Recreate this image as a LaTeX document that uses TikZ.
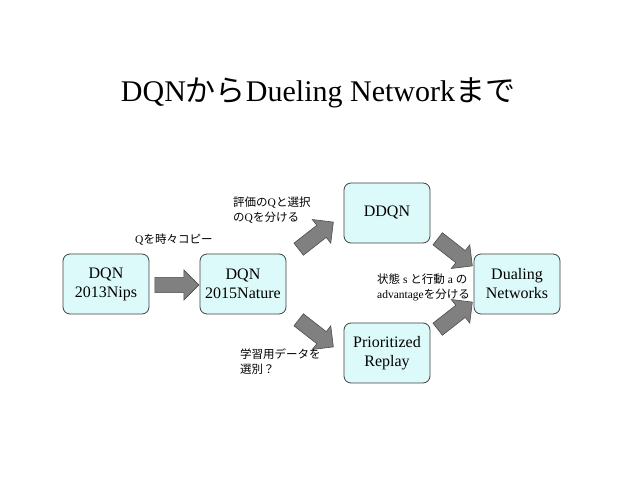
\documentclass[tikz,border=0pt]{standalone}
\usepackage{fontspec}
\setmainfont{Liberation Serif}
\newfontfamily\cjk{Noto Sans CJK JP}
\usetikzlibrary{shapes.arrows}
\definecolor{boxfill}{HTML}{DDFAFA}
\begin{document}
\begin{tikzpicture}[x=1pt,y=-1pt,
 box/.style={draw=black!75,fill=boxfill,rounded corners=7pt,line width=0.8pt,minimum width=86pt,minimum height=60pt,align=center,font=\fontsize{16}{19}\selectfont},
 barrow/.style={single arrow,draw=black!70,fill=black!50,line width=0.6pt,minimum height=44pt,minimum width=30pt,inner sep=7pt,single arrow head extend=7pt,single arrow tip angle=90},
 lab/.style={font=\fontsize{11.5}{15}\selectfont,align=left,inner sep=0pt}]
\useasboundingbox (0,0) rectangle (638,478);
\node (title) at (318,93) {\fontsize{30}{34}\selectfont DQN{\cjk から}Dueling Network{\cjk まで}};
\node[box] (a) at (106,284) {DQN\\2013Nips};
\node[box] (b) at (243,284) {DQN\\2015Nature};
\node[box] (c) at (387,213) {DDQN};
\node[box] (d) at (387,353) {Prioritized\\Replay};
\node[box] (e) at (517,284) {Dualing\\Networks};
\node[barrow] (ar1) at (173,285) {};
\node[barrow,rotate=38,minimum height=44pt] (ar2) at (313,238) {};
\node[barrow,rotate=-38,minimum height=44pt] (ar3) at (313,331) {};
\node[barrow,rotate=-38,minimum height=44pt] (ar4) at (452,250) {};
\node[barrow,rotate=38,minimum height=44pt] (ar5) at (452,318) {};
\node[lab,anchor=west] (l1) at (135,240) {Q{\cjk を時々コピー}};
\node[lab,anchor=west] (l2) at (233,210) {{\cjk 評価の}Q{\cjk と選択}\\{\cjk の}Q{\cjk を分ける}};
\node[lab,anchor=west] (l3) at (240,362) {{\cjk 学習用データを}\\{\cjk 選別？}};
\node[lab,anchor=east,align=left] (l4) at (470,287) {{\cjk 状態} s {\cjk と行動} a {\cjk の}\\advantage{\cjk を分ける}};
\end{tikzpicture}
\end{document}
